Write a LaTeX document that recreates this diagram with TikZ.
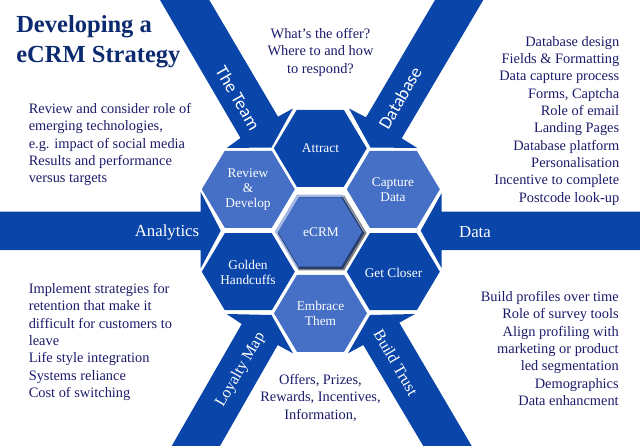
\documentclass[tikz,border=0pt]{standalone}
\usepackage{fontspec}
\setmainfont{Liberation Serif}
\newfontfamily\labelfont{Carlito}
\definecolor{bandblue}{HTML}{0A45A9}
\definecolor{paleblue}{HTML}{4570C5}
\definecolor{inkblue}{HTML}{1B1B6B}
\definecolor{titleblue}{HTML}{0C2A70}
\newcommand{\hexfill}[3]{\fill[shift={(#2,#3)},#1] (-46.5,0) -- (-23.5,-38.5) -- (23.5,-38.5) -- (46.5,0) -- (23.5,38.5) -- (-23.5,38.5) -- cycle;}
\begin{document}
\begin{tikzpicture}[x=0.75pt,y=-0.75pt,
  body node/.style={inner sep=0pt,text=inkblue,font=\fontsize{10.8}{13}\selectfont},
  hex node/.style={inner sep=0pt,text=white,align=center,font=\fontsize{10}{11.25}\selectfont},
  band node/.style={inner sep=0pt,text=white,font=\fontsize{12.6}{14}\selectfont},
  slant node/.style={inner sep=0pt,text=white,font=\fontsize{12}{14}\selectfont},
  sans node/.style={inner sep=0pt,text=white,font=\labelfont\fontsize{13.6}{16}\selectfont}]
  \useasboundingbox (0,0) rectangle (640,446);
  % bands
  \fill[bandblue] (160,0) -- (209.3,0) -- (278,116.7) -- (293,108.5) -- (271.5,147.5) -- (226.7,148) -- (240.5,138) -- cycle;
  \fill[bandblue] (435,0) -- (483.3,0) -- (401.7,138.3) -- (417.3,148) -- (370.5,147.5) -- (349,108.5) -- (366,117.3) -- cycle;
  \fill[bandblue] (0,211.7) -- (200.7,211.7) -- (200.7,192) -- (220.7,230.7) -- (200.7,268.3) -- (200.7,250) -- (0,250) -- cycle;
  \fill[bandblue] (640,211.7) -- (441.7,211.7) -- (441.7,193) -- (420.7,230.7) -- (441.7,268.3) -- (441.7,250) -- (640,250) -- cycle;
  \fill[bandblue] (171.7,446) -- (220,446) -- (277.7,345) -- (293,353.3) -- (271.5,315) -- (226.7,314) -- (241.7,324) -- cycle;
  \fill[bandblue] (471.7,446) -- (423.3,446) -- (363.3,345) -- (348,353.3) -- (370,315) -- (415,314) -- (399.3,322.7) -- cycle;
  % hexagons
  \hexfill{bandblue}{320.3}{148.3}
  \hexfill{paleblue}{248.3}{189.3}
  \hexfill{paleblue}{393.3}{189.3}
  \hexfill{bandblue}{248.3}{271.7}
  \hexfill{bandblue}{393.3}{271.7}
  \hexfill{paleblue}{320.5}{313.3}
  % centre hexagon
  \hexfill{black!50,scale=0.97}{321.5}{233}
  \hexfill{paleblue!50!white,scale=0.96}{319.5}{231.5}
  \hexfill{paleblue!55!black,scale=0.93}{321}{233}
  \hexfill{paleblue,scale=0.9}{320}{232}
  % hexagon labels
  \node[hex node] (attract) at (320.5,148) {Attract};
  \node[hex node] (review) at (248,190) {Review\\\&\\Develop};
  \node[hex node] (capture) at (393,190) {Capture\\Data};
  \node[hex node] (ecrm) at (321,232) {eCRM};
  \node[hex node] (golden) at (248,272) {Golden\\Handcuffs};
  \node[hex node] (closer) at (393.5,272.5) {Get Closer};
  \node[hex node] (embrace) at (320.5,313.5) {Embrace\\Them};
  % band labels
  \node[sans node,rotate=-60] (team) at (238,98) {The Team};
  \node[sans node,rotate=60] (database) at (400,98) {Database};
  \node[band node] (analytics) at (167,232) {Analytics};
  \node[band node] (data) at (475,232) {Data};
  \node[slant node,rotate=60] (loyalty) at (240.7,370) {Loyalty Map};
  \node[slant node,rotate=-60] (trust) at (396,362.7) {Build Trust};
  % title and lists
  \node[inner sep=0pt,anchor=west,align=left,text=titleblue,font=\fontsize{18.4}{22.5}\selectfont\bfseries] (title) at (16,42) {Developing a\\eCRM Strategy};
  \node[body node,anchor=north west,align=left] (reviewlist) at (28.5,103) {Review and consider role of\\emerging technologies,\\e.g. impact of social media\\Results and performance\\versus targets};
  \node[body node,anchor=north,align=center] (offer) at (320.5,28) {What's the offer?\\Where to and how\\to respond?};
  \node[body node,anchor=north east,align=right] (dblist) at (619.5,36) {Database design\\Fields \& Formatting\\Data capture process\\Forms, Captcha\\Role of email\\Landing Pages\\Database platform\\Personalisation\\Incentive to complete\\Postcode look-up};
  \node[body node,anchor=north west,align=left] (loyaltylist) at (28.5,283) {Implement strategies for\\retention that make it\\difficult for customers to\\leave\\Life style integration\\Systems reliance\\Cost of switching};
  \node[body node,anchor=north,align=center] (offers) at (320.5,374) {Offers, Prizes,\\Rewards, Incentives,\\Information,};
  \node[body node,anchor=north east,align=right] (trustlist) at (619,291) {Build profiles over time\\Role of survey tools\\Align profiling with\\marketing or product\\led segmentation\\Demographics\\Data enhancment};
\end{tikzpicture}
\end{document}
